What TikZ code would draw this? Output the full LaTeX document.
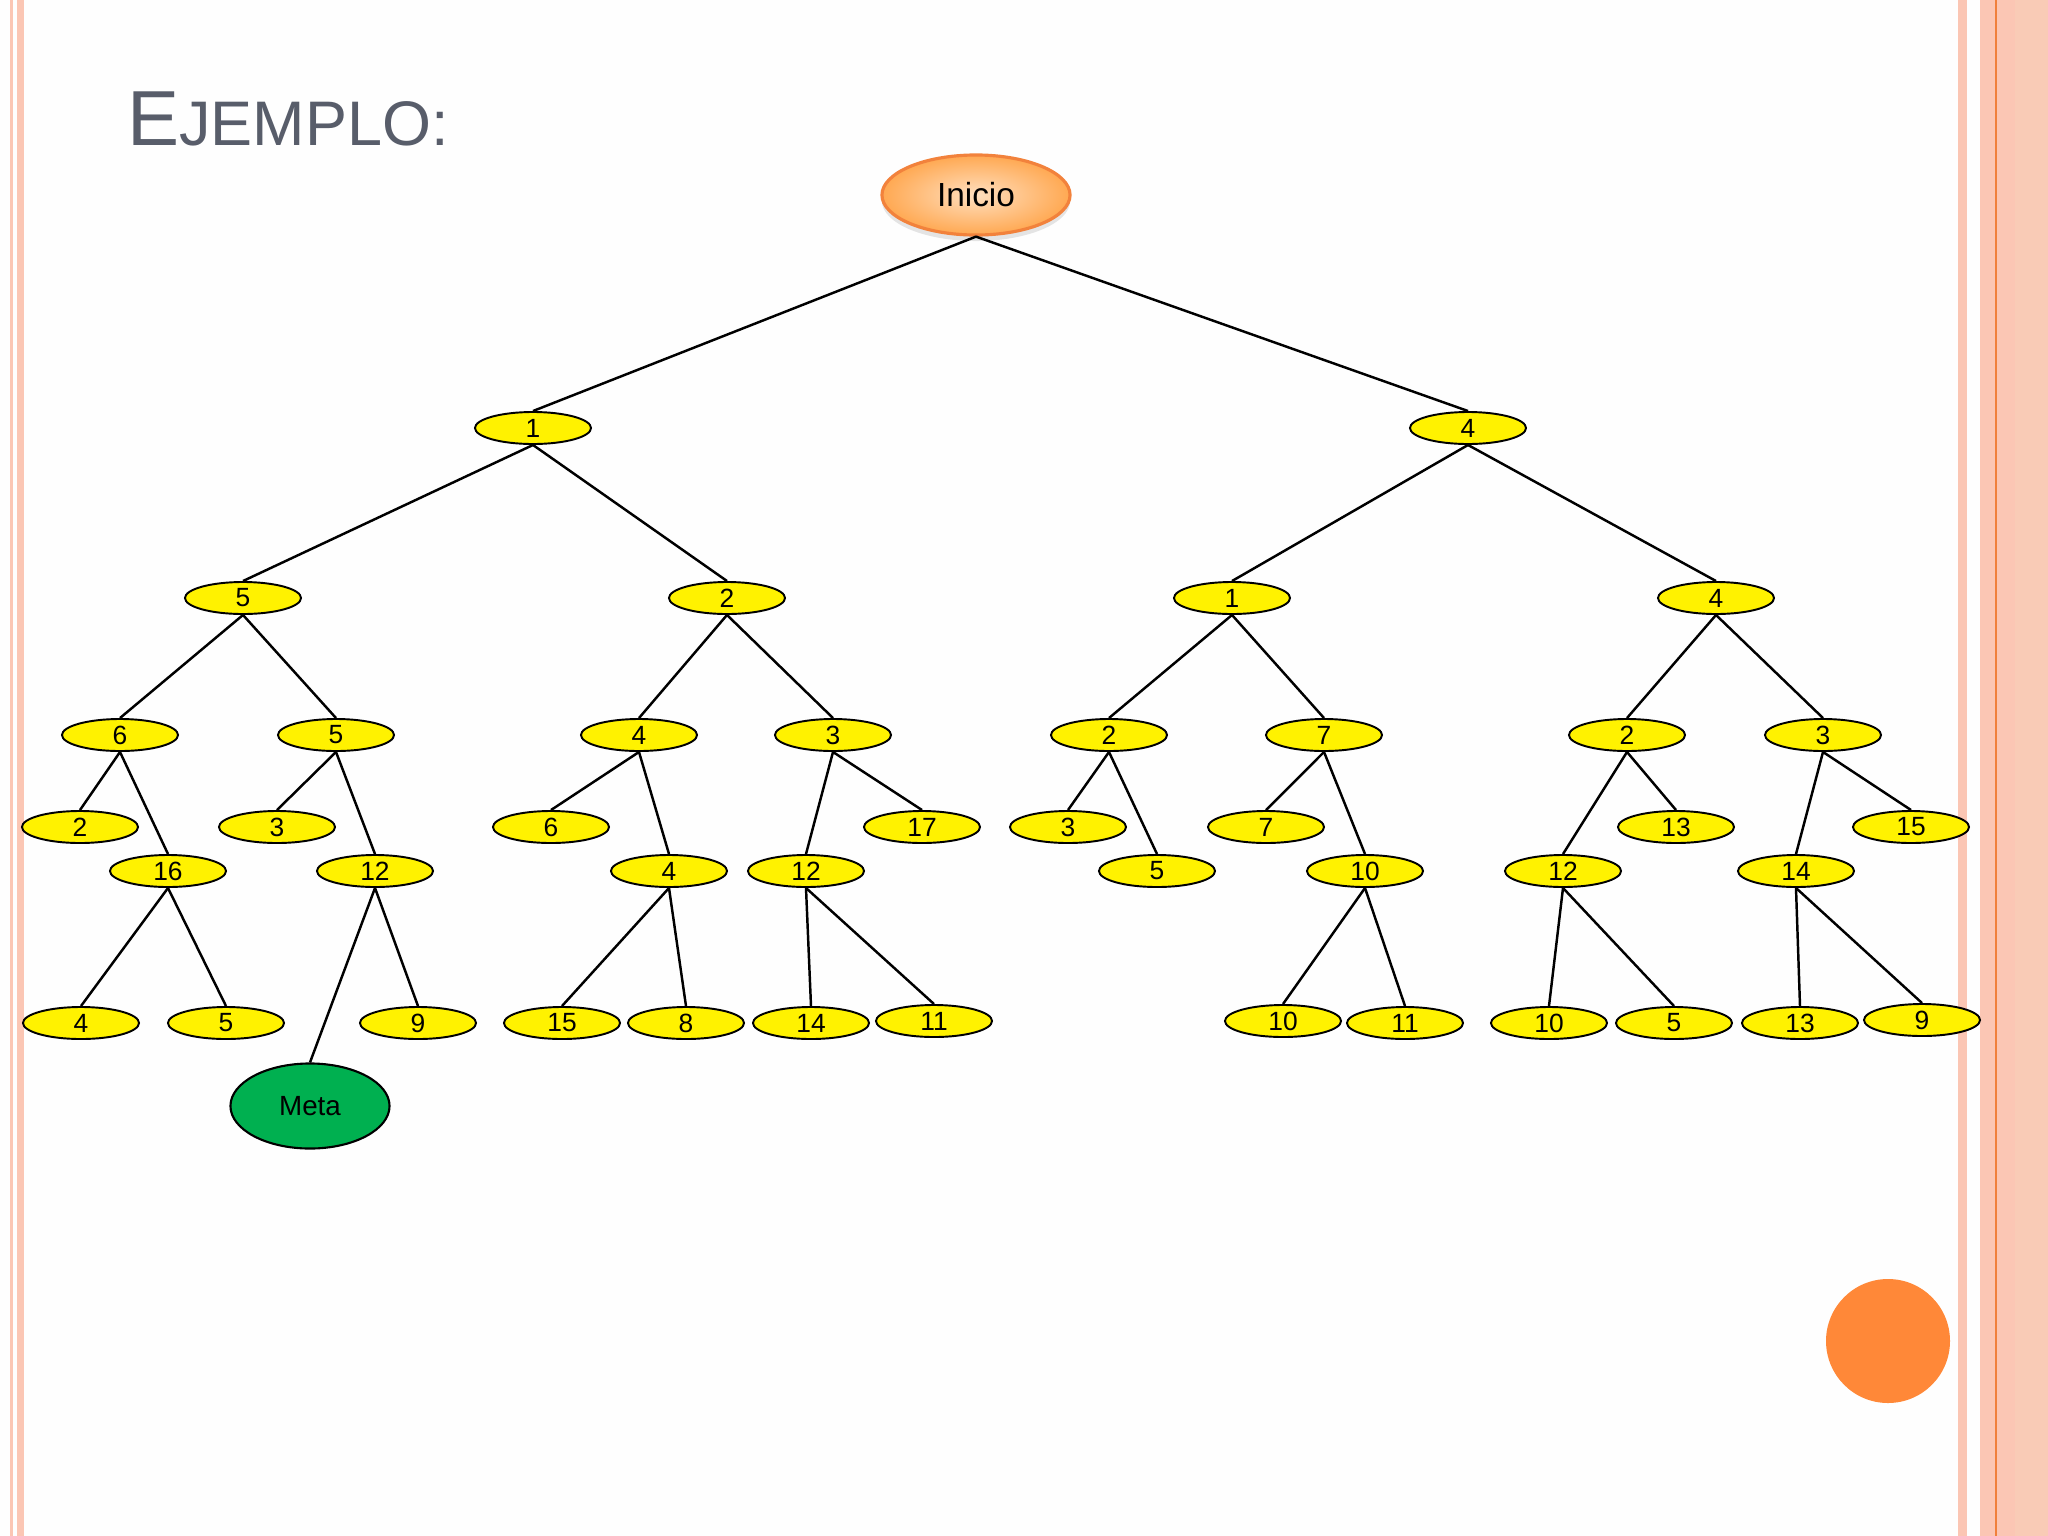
\documentclass[tikz,border=0pt]{standalone}
\usepackage{fontspec}
\setmainfont{Liberation Sans}
\usetikzlibrary{shapes.geometric, shadows}

\definecolor{fondo}{RGB}{254,254,254}
\definecolor{franja}{RGB}{251,198,180}
\definecolor{franjaosc}{RGB}{249,203,182}
\definecolor{lineanar}{RGB}{240,128,60}
\definecolor{titulo}{RGB}{88,93,106}
\definecolor{naranja}{RGB}{255,136,56}
\definecolor{verdemeta}{RGB}{0,176,80}
\definecolor{bordeinicio}{RGB}{242,130,60}

\begin{document}
\begin{tikzpicture}[x=0.01cm, y=-0.01cm, thick]
        % Stiluri
        \tikzstyle{nodo} = [draw, ellipse, fill=yellow, line width=0.55pt, inner sep=0pt, minimum width=1.16cm, minimum height=0.32cm, font=\fontsize{7.5}{9}\selectfont]
        \tikzstyle{arista} = [line width=0.7pt]
        \tikzstyle{inicio} = [draw=bordeinicio, ellipse, line width=0.9pt, inner sep=0pt, minimum width=1.88cm, minimum height=0.8cm, inner color=orange!25, outer color=orange!68, drop shadow={opacity=0.2, shadow xshift=0mm, shadow yshift=-0.6mm}, font=\fontsize{9.5}{11}\selectfont]
        \tikzstyle{meta} = [draw, ellipse, fill=verdemeta, line width=0.6pt, inner sep=0pt, minimum width=1.59cm, minimum height=0.85cm, font=\fontsize{7.9}{9}\selectfont]

        % --- Fondo y franjas ---
        \fill [fondo] (0,0) rectangle (2048,1536);
        \useasboundingbox (0,0) rectangle (2048,1536);
        \fill [franja] (10,0) rectangle (13,1536);
        \fill [franja] (17,0) rectangle (24,1536);
        \fill [franja] (1958,0) rectangle (1967,1536);
        \fill [franja] (1980,0) rectangle (2015,1536);
        \fill [franjaosc] (2015,0) rectangle (2048,1536);
        \fill [lineanar] (1995,0) rectangle (1997,1536);
        \fill [naranja] (1888,1341) circle (62);

        % --- Titulo ---
        \node [anchor=base west, inner sep=0pt, text=titulo] (titulo) at (126,145)
            {\fontsize{22.2}{26}\selectfont E\fontsize{17.9}{21}\selectfont JEMPLO:};

        % --- Raiz ---
        \node [inicio] (inicio) at (976,195) {Inicio};

        % --- Nivel 1 ---
        \node [nodo] (a) at (533,428) {1};
        \node [nodo] (b) at (1468,428) {4};

        % --- Nivel 2 ---
        \node [nodo] (aa) at (243,598) {5};
        \node [nodo] (ab) at (727,598) {2};
        \node [nodo] (ba) at (1232,598) {1};
        \node [nodo] (bb) at (1716,598) {4};

        % --- Nivel 3 ---
        \node [nodo] (aaa) at (120,735) {6};
        \node [nodo] (aab) at (336,735) {5};
        \node [nodo] (aba) at (639,735) {4};
        \node [nodo] (abb) at (833,735) {3};
        \node [nodo] (baa) at (1109,735) {2};
        \node [nodo] (bab) at (1324,735) {7};
        \node [nodo] (bba) at (1627,735) {2};
        \node [nodo] (bbb) at (1823,735) {3};

        % --- Nivel 4 ---
        \node [nodo] (aaaa) at (80,827) {2};
        \node [nodo] (aaab) at (168,871) {16};
        \node [nodo] (aaba) at (277,827) {3};
        \node [nodo] (aabb) at (375,871) {12};
        \node [nodo] (abaa) at (551,827) {6};
        \node [nodo] (abab) at (669,871) {4};
        \node [nodo] (abba) at (806,871) {12};
        \node [nodo] (abbb) at (922,827) {17};
        \node [nodo] (baaa) at (1068,827) {3};
        \node [nodo] (baab) at (1157,871) {5};
        \node [nodo] (baba) at (1266,827) {7};
        \node [nodo] (babb) at (1365,871) {10};
        \node [nodo] (bbaa) at (1563,871) {12};
        \node [nodo] (bbab) at (1676,827) {13};
        \node [nodo] (bbba) at (1796,871) {14};
        \node [nodo] (bbbb) at (1911,827) {15};

        % --- Nivel 5 ---
        \node [nodo] (aaaba) at (81,1023) {4};
        \node [nodo] (aaabb) at (226,1023) {5};
        \node [meta] (meta) at (310,1106) {Meta};
        \node [nodo] (aabbb) at (418,1023) {9};
        \node [nodo] (ababa) at (562,1023) {15};
        \node [nodo] (ababb) at (686,1023) {8};
        \node [nodo] (abbaa) at (811,1023) {14};
        \node [nodo] (abbab) at (934,1021) {11};
        \node [nodo] (babba) at (1283,1021) {10};
        \node [nodo] (babbb) at (1405,1023) {11};
        \node [nodo] (bbaaa) at (1549,1023) {10};
        \node [nodo] (bbaab) at (1674,1023) {5};
        \node [nodo] (bbbaa) at (1800,1023) {13};
        \node [nodo] (bbbab) at (1922,1020) {9};

        % --- Aristas ---
        \draw [arista] (inicio.south) -- (a.north);
        \draw [arista] (inicio.south) -- (b.north);
        \draw [arista] (a.south) -- (aa.north);
        \draw [arista] (a.south) -- (ab.north);
        \draw [arista] (b.south) -- (ba.north);
        \draw [arista] (b.south) -- (bb.north);

        \draw [arista] (aa.south) -- (aaa.north);
        \draw [arista] (aa.south) -- (aab.north);
        \draw [arista] (ab.south) -- (aba.north);
        \draw [arista] (ab.south) -- (abb.north);
        \draw [arista] (ba.south) -- (baa.north);
        \draw [arista] (ba.south) -- (bab.north);
        \draw [arista] (bb.south) -- (bba.north);
        \draw [arista] (bb.south) -- (bbb.north);

        \draw [arista] (aaa.south) -- (aaaa.north);
        \draw [arista] (aaa.south) -- (aaab.north);
        \draw [arista] (aab.south) -- (aaba.north);
        \draw [arista] (aab.south) -- (aabb.north);
        \draw [arista] (aba.south) -- (abaa.north);
        \draw [arista] (aba.south) -- (abab.north);
        \draw [arista] (abb.south) -- (abba.north);
        \draw [arista] (abb.south) -- (abbb.north);
        \draw [arista] (baa.south) -- (baaa.north);
        \draw [arista] (baa.south) -- (baab.north);
        \draw [arista] (bab.south) -- (baba.north);
        \draw [arista] (bab.south) -- (babb.north);
        \draw [arista] (bba.south) -- (bbaa.north);
        \draw [arista] (bba.south) -- (bbab.north);
        \draw [arista] (bbb.south) -- (bbba.north);
        \draw [arista] (bbb.south) -- (bbbb.north);

        \draw [arista] (aaab.south) -- (aaaba.north);
        \draw [arista] (aaab.south) -- (aaabb.north);
        \draw [arista] (aabb.south) -- (meta.north);
        \draw [arista] (aabb.south) -- (aabbb.north);
        \draw [arista] (abab.south) -- (ababa.north);
        \draw [arista] (abab.south) -- (ababb.north);
        \draw [arista] (abba.south) -- (abbaa.north);
        \draw [arista] (abba.south) -- (abbab.north);
        \draw [arista] (babb.south) -- (babba.north);
        \draw [arista] (babb.south) -- (babbb.north);
        \draw [arista] (bbaa.south) -- (bbaaa.north);
        \draw [arista] (bbaa.south) -- (bbaab.north);
        \draw [arista] (bbba.south) -- (bbbaa.north);
        \draw [arista] (bbba.south) -- (bbbab.north);

    \end{tikzpicture}
\end{document}
